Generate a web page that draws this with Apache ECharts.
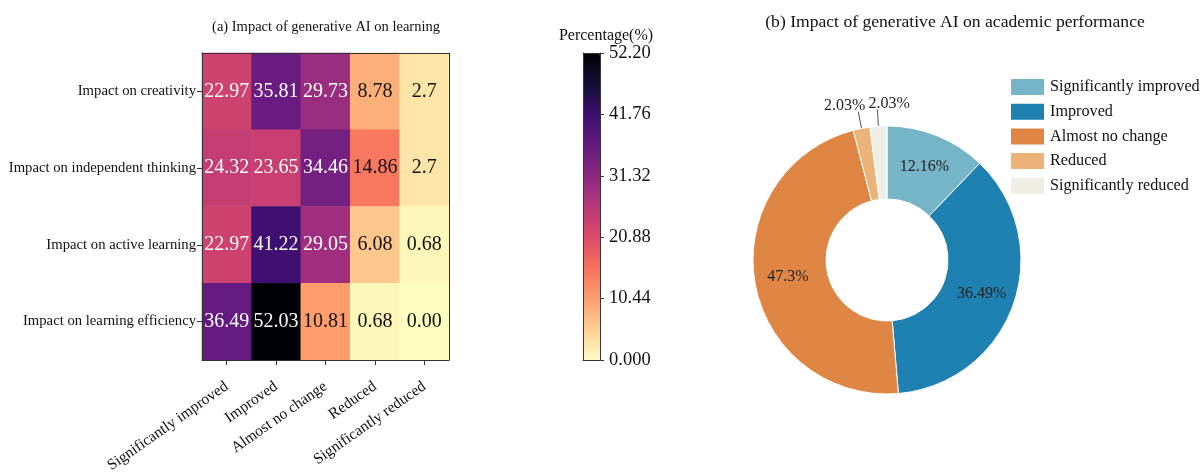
<!DOCTYPE html>
<html><head><meta charset="utf-8">
<script src="https://cdn.jsdelivr.net/npm/echarts@6/dist/echarts.min.js"></script>
<style>html,body{margin:0;padding:0;background:#fff}#c{width:1200px;height:476px}</style>
</head><body><div id="c"></div>
<script>
const xCategories = ['Significantly improved', 'Improved', 'Almost no change', 'Reduced', 'Significantly reduced'];
const yCategories = ['Impact on creativity', 'Impact on independent thinking', 'Impact on active learning', 'Impact on learning efficiency'];
const rowCreativity = [22.97, 35.81, 29.73, 8.78, 2.7];
const rowIndependent = [24.32, 23.65, 34.46, 14.86, 2.7];
const rowActive = [22.97, 41.22, 29.05, 6.08, 0.68];
const rowEfficiency = [36.49, 52.03, 10.81, 0.68, 0.00];
const colorbarTicks = ['0.000', '10.44', '20.88', '31.32', '41.76', '52.20'];
const colorbarMin = 0, colorbarMax = 52.2, colorbarStep = 10.44;
const pieNames = ['Significantly improved', 'Improved', 'Almost no change', 'Reduced', 'Significantly reduced'];
const pieValues = [12.16, 36.49, 47.3, 2.03, 2.03];

const FONT = 'Liberation Serif';
const pieColors = ['#76b4c7', '#1f80b2', '#e08645', '#ebb377', '#eeeee4'];
const magma = ['#fcfdbf', '#fecf92', '#fe9f6d', '#f7705c', '#de4968', '#b73779', '#8c2981', '#641a80', '#3b0f70', '#140e36', '#000004'];

const rows = [rowCreativity, rowIndependent, rowActive, rowEfficiency];
const heatData = [];
rows.forEach((row, yi) => row.forEach((v, xi) => {
  heatData.push({ value: [xi, yi, v], label: { color: v > 20 ? '#ffffff' : '#111111' } });
}));
const pieData = pieNames.map((n, i) => {
  const d = { name: n, value: pieValues[i], itemStyle: { color: pieColors[i] } };
  if (pieValues[i] < 5) {
    d.label = { position: 'outside' };
    d.labelLine = { show: true, length: 17, length2: 0, lineStyle: { color: '#555', width: 1 } };
  }
  return d;
});

const frameLine = { show: true, onZero: false, lineStyle: { color: '#333', width: 1 } };

const chart = echarts.init(document.getElementById('c'));
chart.setOption({
  backgroundColor: '#fff',
  animation: false,
  title: [
    { text: '(a) Impact of generative AI on learning', left: 321, top: 15, textAlign: 'center',
      textStyle: { fontFamily: FONT, fontSize: 14.5, fontWeight: 'normal', color: '#111' } },
    { text: '(b) Impact of generative AI on academic performance', left: 950, top: 8, textAlign: 'center',
      textStyle: { fontFamily: FONT, fontSize: 17.6, fontWeight: 'normal', color: '#111' } },
    { text: 'Percentage(%)', left: 601, top: 23, textAlign: 'center',
      textStyle: { fontFamily: FONT, fontSize: 16, fontWeight: 'normal', color: '#111' } }
  ],
  grid: [
    { left: 202, top: 53, width: 247, height: 307 },
    { left: 583, top: 53, width: 17, height: 307 }
  ],
  xAxis: [
    { type: 'category', gridIndex: 0, data: xCategories, position: 'bottom', z: 10,
      axisLine: frameLine,
      axisTick: { show: true, alignWithLabel: true, length: 5, lineStyle: { color: '#333' } },
      axisLabel: { interval: 0, rotate: 35, margin: 25, fontFamily: FONT, fontSize: 15.5, color: '#111' },
      splitArea: { show: false } },
    { type: 'category', gridIndex: 0, data: xCategories, position: 'top', z: 10,
      axisLine: frameLine, axisTick: { show: false }, axisLabel: { show: false } },
    { type: 'value', gridIndex: 1, position: 'bottom', min: 0, max: 1, z: 10,
      axisLine: frameLine, axisTick: { show: false }, axisLabel: { show: false }, splitLine: { show: false } },
    { type: 'value', gridIndex: 1, position: 'top', min: 0, max: 1, z: 10,
      axisLine: frameLine, axisTick: { show: false }, axisLabel: { show: false }, splitLine: { show: false } }
  ],
  yAxis: [
    { type: 'category', gridIndex: 0, data: yCategories, inverse: true, position: 'left', z: 10,
      axisLine: frameLine,
      axisTick: { show: true, alignWithLabel: true, length: 5, lineStyle: { color: '#333' } },
      axisLabel: { interval: 0, margin: 6, fontFamily: FONT, fontSize: 14.7, color: '#111' } },
    { type: 'category', gridIndex: 0, data: yCategories, inverse: true, position: 'right', z: 10,
      axisLine: frameLine, axisTick: { show: false }, axisLabel: { show: false } },
    { type: 'value', gridIndex: 1, position: 'right', min: colorbarMin, max: colorbarMax, interval: colorbarStep, z: 10,
      axisLine: frameLine,
      axisTick: { show: true, inside: false, length: 4, lineStyle: { color: '#333' } },
      splitLine: { show: false },
      axisLabel: { margin: 9, fontFamily: FONT, fontSize: 18.5, color: '#111',
        formatter: (v) => colorbarTicks[Math.round((v - colorbarMin) / colorbarStep)] } },
    { type: 'value', gridIndex: 1, position: 'left', min: colorbarMin, max: colorbarMax, z: 10,
      axisLine: frameLine, axisTick: { show: false }, axisLabel: { show: false }, splitLine: { show: false } }
  ],
  visualMap: {
    type: 'continuous', seriesIndex: 0, min: colorbarMin, max: colorbarMax, calculable: false,
    orient: 'vertical', left: 583, top: 53, itemWidth: 17, itemHeight: 307, padding: 0,
    inRange: { color: magma }, hoverLink: false
  },
  legend: {
    data: pieNames, orient: 'vertical', left: 1009, top: 77, padding: 0,
    icon: 'rect', itemWidth: 35, itemHeight: 18, itemGap: 4.7,
    textStyle: { fontFamily: FONT, fontSize: 16.2, color: '#111', lineHeight: 18 }
  },
  series: [
    { type: 'heatmap', xAxisIndex: 0, yAxisIndex: 0, data: heatData,
      label: { show: true, fontFamily: FONT, fontSize: 20,
        formatter: (p) => (p.value[2] === 0 ? '0.00' : String(p.value[2])) } },
    { type: 'pie', center: [887, 260], radius: [61, 134], startAngle: 90, clockwise: true,
      data: pieData, avoidLabelOverlap: false,
      itemStyle: { borderColor: '#fff', borderWidth: 1 },
      label: { position: 'inside', formatter: '{c}%', fontFamily: FONT, fontSize: 16, color: '#222' },
      labelLayout: (p) => {
        if (p.dataIndex === 3) return { dx: 12, dy: -6 };
        if (p.dataIndex === 4) return { dx: p.labelRect.width - 4, dy: -6 };
        return {};
      },
      emphasis: { disabled: true } }
  ]
});
</script></body></html>
